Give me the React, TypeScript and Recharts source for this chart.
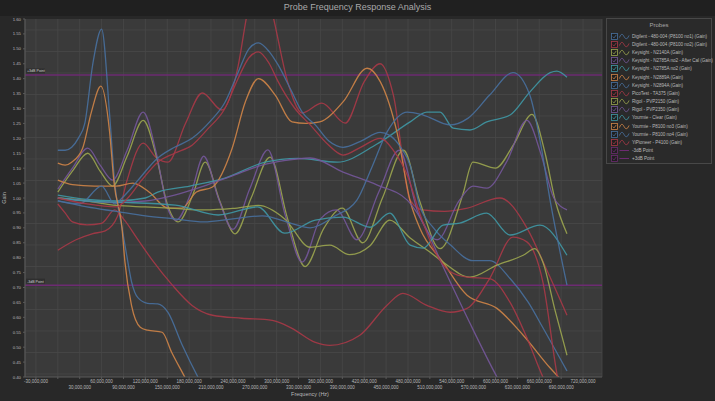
import React from "react";
import { CartesianGrid, Label, Line, LineChart, ReferenceLine, XAxis, YAxis } from "recharts";

type Pt = [number, number]; // [frequency in MHz, gain]

const DIGILENT_NO1: Pt[] = [[0, 1.16], [10, 1.16], [19, 1.17], [28, 1.2], [37, 1.25], [48, 1.45], [60, 1.566], [71, 1.28], [78, 1.05], [88, 0.9], [95, 0.8], [101, 0.72], [110, 0.665], [123, 0.647], [137, 0.645], [151, 0.617], [170, 0.51], [192, 0.4], [215, 0.3]];
const DIGILENT_NO2: Pt[] = [[0, 0.825], [25, 0.86], [47, 0.88], [65, 0.89], [82, 0.94], [95, 1.06], [117, 1.184], [135, 1.135], [151, 1.12], [175, 1.25], [198, 1.352], [225, 1.295], [247, 1.44], [259, 1.61], [277, 1.78], [295, 1.61], [315, 1.39], [335, 1.285], [362, 1.318], [394, 1.251], [420, 1.39], [442, 1.45], [460, 1.345], [483, 0.993], [500, 0.96], [530, 0.955], [560, 0.965], [606, 1.0], [643, 0.9], [670, 0.76], [698, 0.607]];
const KS_N2140A: Pt[] = [[0, 1.02], [20, 1.09], [41, 1.15], [58, 1.09], [75, 1.04], [95, 1.14], [117, 1.26], [135, 1.14], [150, 0.98], [165, 0.92], [185, 1.01], [202, 1.12], [222, 0.99], [243, 0.88], [265, 1.0], [291, 1.137], [315, 0.93], [339, 0.77], [365, 0.9], [390, 0.966], [418, 0.85], [445, 1.0], [474, 1.16], [496, 0.99], [524, 0.83], [555, 1.01], [569, 1.12], [600, 1.1], [625, 1.18], [650, 1.28], [668, 1.15], [682, 0.99], [698, 0.88]];
const KS_N2785A_CAL: Pt[] = [[0, 1.03], [20, 1.1], [41, 1.167], [58, 1.11], [75, 1.06], [95, 1.16], [117, 1.288], [135, 1.15], [150, 0.97], [162, 0.925], [183, 1.02], [200, 1.14], [220, 1.0], [240, 0.895], [263, 1.03], [288, 1.161], [312, 0.94], [335, 0.785], [360, 0.93], [382, 0.96], [410, 0.86], [440, 1.02], [468, 1.16], [494, 0.95], [520, 0.86], [550, 0.99], [569, 1.04], [588, 1.033], [615, 1.12], [643, 1.26], [662, 1.15], [680, 1.0], [698, 0.96]];
const KS_N2785A: Pt[] = [[0, 1.01], [40, 0.995], [80, 0.99], [120, 1.0], [137, 1.02], [181, 1.04], [229, 1.067], [284, 1.12], [329, 1.133], [383, 1.12], [437, 1.18], [483, 1.255], [506, 1.288], [524, 1.288], [542, 1.234], [565, 1.228], [588, 1.255], [620, 1.278], [647, 1.355], [675, 1.42], [684, 1.425], [698, 1.405]];
const KS_N2889A: Pt[] = [[0, 1.06], [20, 1.045], [50, 1.04], [80, 1.04], [103, 1.05], [125, 1.02], [151, 0.966], [170, 0.966], [190, 1.02], [212, 1.037], [239, 1.167], [257, 1.322], [275, 1.4], [298, 1.345], [321, 1.255], [340, 1.25], [359, 1.255], [391, 1.322], [424, 1.435], [442, 1.39], [465, 1.22], [483, 0.99], [496, 0.9], [528, 0.785], [561, 0.674], [602, 0.63], [638, 0.54], [675, 0.43], [698, 0.37]];
const KS_N2894A: Pt[] = [[0, 0.99], [30, 0.98], [60, 1.04], [78, 0.98], [88, 1.0], [110, 1.06], [137, 1.134], [160, 1.17], [184, 1.2], [210, 1.26], [229, 1.32], [247, 1.42], [262, 1.5], [275, 1.52], [290, 1.49], [302, 1.446], [320, 1.36], [335, 1.288], [353, 1.245], [372, 1.19], [391, 1.17], [415, 1.19], [442, 1.22], [455, 1.21], [470, 1.17], [483, 1.11], [496, 0.975], [515, 0.9], [538, 0.843], [569, 0.79], [592, 0.79], [620, 0.73], [645, 0.65], [665, 0.565], [698, 0.42]];
const PICO_TA375: Pt[] = [[0, 0.98], [10, 0.95], [20, 0.92], [40, 0.91], [60, 0.915], [78, 0.96], [90, 0.93], [110, 0.86], [130, 0.79], [157, 0.708], [184, 0.64], [212, 0.607], [252, 0.597], [294, 0.59], [321, 0.563], [353, 0.516], [373, 0.506], [414, 0.54], [451, 0.64], [473, 0.68], [506, 0.64], [538, 0.617], [561, 0.63], [592, 0.73], [624, 0.869], [643, 0.853], [665, 0.718], [685, 0.4], [700, 0.25]];
const RIGOL_2150: Pt[] = [[0, 1.0], [40, 0.99], [80, 0.975], [120, 0.97], [160, 0.965], [200, 0.96], [240, 0.965], [275, 0.975], [311, 0.93], [346, 0.835], [373, 0.842], [400, 0.81], [428, 0.84], [455, 0.926], [483, 0.866], [510, 0.819], [528, 0.785], [565, 0.735], [602, 0.775], [638, 0.808], [654, 0.83], [665, 0.785], [682, 0.62], [698, 0.473]];
const RIGOL_2350: Pt[] = [[0, 1.0], [40, 0.99], [80, 0.985], [120, 0.99], [160, 1.01], [200, 1.04], [240, 1.075], [280, 1.11], [310, 1.125], [346, 1.134], [391, 1.087], [438, 1.043], [479, 0.993], [500, 0.92], [530, 0.76], [565, 0.58], [602, 0.4], [630, 0.28]];
const YOURMIE_CLEAR: Pt[] = [[0, 1.0], [40, 0.99], [82, 0.986], [161, 0.976], [220, 0.943], [274, 0.97], [311, 0.882], [353, 0.926], [391, 0.936], [428, 0.902], [455, 0.949], [483, 0.842], [501, 0.832], [528, 0.909], [551, 0.916], [588, 0.949], [620, 0.876], [661, 0.909], [698, 0.808]];
const YOURMIE_NO3: Pt[] = [[0, 1.117], [10, 1.11], [19, 1.12], [34, 1.167], [46, 1.288], [59, 1.375], [71, 1.221], [77, 1.053], [88, 0.899], [92, 0.785], [101, 0.64], [113, 0.567], [123, 0.557], [143, 0.55], [156, 0.483], [174, 0.4], [195, 0.3]];
const YOURMIE_NO4: Pt[] = [[0, 0.99], [40, 0.97], [80, 0.955], [120, 0.94], [160, 0.93], [200, 0.92], [240, 0.93], [280, 0.94], [320, 0.915], [346, 0.9], [380, 0.94], [410, 0.993], [430, 1.1], [451, 1.22], [479, 1.288], [501, 1.278], [538, 1.245], [562, 1.267], [592, 1.345], [624, 1.42], [647, 1.345], [662, 1.18], [675, 0.99], [698, 0.708]];
const YIPIONEER_P4100: Pt[] = [[0, 1.0], [40, 0.98], [80, 0.97], [96, 1.0], [115, 1.06], [137, 1.12], [160, 1.15], [184, 1.177], [205, 1.23], [229, 1.3], [247, 1.4], [262, 1.47], [275, 1.49], [290, 1.45], [302, 1.39], [325, 1.3], [346, 1.245], [370, 1.18], [391, 1.144], [415, 1.17], [442, 1.2], [460, 1.16], [479, 1.077], [496, 0.95], [515, 0.83], [538, 0.753], [561, 0.735], [592, 0.73], [620, 0.65], [645, 0.52], [665, 0.4], [690, 0.3]];

const SERIES_NAMES = [
  "Digilent - 480-004 (P8100 no1) (Gain)",
  "Digilent - 480-004 (P8100 no2) (Gain)",
  "Keysight - N2140A (Gain)",
  "Keysight - N2785A no2 - After Cal (Gain)",
  "Keysight - N2785A no2 (Gain)",
  "Keysight - N2889A (Gain)",
  "Keysight - N2894A (Gain)",
  "PicoTest - TA375 (Gain)",
  "Rigol - PVP2150 (Gain)",
  "Rigol - PVP2350 (Gain)",
  "Yourmie - Clear (Gain)",
  "Yourmie - P8100 no3 (Gain)",
  "Yourmie - P8100 no4 (Gain)",
  "YiPioneer - P4100 (Gain)",
];
const SERIES_POINTS = [
  DIGILENT_NO1, DIGILENT_NO2, KS_N2140A, KS_N2785A_CAL, KS_N2785A, KS_N2889A, KS_N2894A,
  PICO_TA375, RIGOL_2150, RIGOL_2350, YOURMIE_CLEAR, YOURMIE_NO3, YOURMIE_NO4, YIPIONEER_P4100,
];

// muted palette, cycles every six probes
const BLUE = "#48709f";
const RED = "#a83947";
const GREEN = "#9ba54f";
const PURPLE = "#74579a";
const TEAL = "#3f98a5";
const ORANGE = "#cf8447";
const PALETTE = [BLUE, RED, GREEN, PURPLE, TEAL, ORANGE];
const REF_PURPLE = "#6d2b72";

const REF_LINES = [
  { name: "-3dB Point", label: "-3dB Point", gain: 0.7079 },
  { name: "+3dB Point", label: "+3dB Point", gain: 1.4125 },
];

const X_TICKS_MHZ = [-30, 0, 30, 60, 90, 120, 150, 180, 210, 240, 270, 300, 330, 360, 390, 420, 450, 480, 510, 540, 570, 600, 630, 660, 690, 720];
const Y_TICKS = [0.4, 0.45, 0.5, 0.55, 0.6, 0.65, 0.7, 0.75, 0.8, 0.85, 0.9, 0.95, 1.0, 1.05, 1.1, 1.15, 1.2, 1.25, 1.3, 1.35, 1.4, 1.45, 1.5, 1.55, 1.6];

const FONT = "'Liberation Sans', Arial, sans-serif";
const TEXT = "#b8b8b8";

const seriesData = SERIES_POINTS.map((pts) => pts.map(([f, g]) => ({ freq: f * 1e6, gain: g })));

function FreqTick(props: any) {
  const { x, y, payload, index } = props;
  if (payload.value === 0) return <g />;
  const lower = index !== 0 && index % 2 === 0;
  return (
    <text x={x} y={y + (lower ? 9 : 2.5)} textAnchor="middle" fontSize={4.5} fill={TEXT} fontFamily={FONT}>
      {Number(payload.value).toLocaleString("en-US")}
    </text>
  );
}

function RefLabel({ viewBox, text }: any) {
  const y = viewBox.y;
  return (
    <g>
      <rect x={26} y={y - 6.5} width={19} height={5} fill="#2d2d2d" fillOpacity={0.85} />
      <text x={27} y={y - 2.6} fontSize={3.6} fill="#d0d0d0" fontFamily={FONT}>
        {text}
      </text>
    </g>
  );
}

function LegendIcon({ color, line }: { color: string; line?: boolean }) {
  return (
    <svg width={19} height={7} style={{ display: "block", flex: "none" }}>
      <rect x={0.5} y={0.5} width={6} height={6} fill="#1f1f1f" stroke={color} strokeWidth={0.8} />
      <polyline points="1.8,3.6 3,4.9 5.3,1.9" fill="none" stroke={color} strokeWidth={0.8} />
      {line ? (
        <line x1={8.5} y1={3.5} x2={18} y2={3.5} stroke={color} strokeWidth={1} />
      ) : (
        <path d="M8.5,4.5 C10,0.5 11.5,0.5 13,3.5 S16.5,6.5 18,2.5" fill="none" stroke={color} strokeWidth={0.9} />
      )}
    </svg>
  );
}

function ProbeLegend() {
  const items = [
    ...SERIES_NAMES.map((name, i) => ({ name, color: PALETTE[i % PALETTE.length], line: false })),
    ...REF_LINES.map((r) => ({ name: r.name, color: REF_PURPLE, line: true })),
  ];
  return (
    <div
      style={{
        position: "absolute",
        left: 606,
        top: 18,
        width: 106,
        height: 146,
        boxSizing: "border-box",
        border: "1px solid #484848",
        background: "#2a2a2a",
        fontFamily: FONT,
      }}
    >
      <div style={{ textAlign: "center", fontSize: 6, color: "#a8a8a8", marginTop: 3, height: 10 }}>Probes</div>
      {items.map((it) => (
        <div key={it.name} style={{ display: "flex", alignItems: "center", height: 8.2, marginLeft: 4 }}>
          <LegendIcon color={it.color} line={it.line} />
          <span style={{ fontSize: 4.6, letterSpacing: -0.05, color: TEXT, marginLeft: 2, whiteSpace: "nowrap" }}>{it.name}</span>
        </div>
      ))}
    </div>
  );
}

export default function App() {
  return (
    <div style={{ position: "fixed", left: 0, top: 0, width: 715, height: 401, background: "#282828", overflow: "hidden" }}>
      <div style={{ position: "absolute", left: 0, top: 0, width: 715, height: 16, background: "#202020" }} />
      <div
        style={{
          position: "absolute",
          left: 0,
          top: 2,
          width: 715,
          textAlign: "center",
          fontSize: 9,
          color: "#a9a9a9",
          fontFamily: FONT,
        }}
      >
        Probe Frequency Response Analysis
      </div>
      <div style={{ position: "absolute", left: 0, top: 0 }}>
        <LineChart width={715} height={401} margin={{ top: 19, right: 113, bottom: 0, left: 0 }}>
          <CartesianGrid
            fill="#3a3a3a"
            fillOpacity={1}
            stroke="#484848"
            strokeWidth={0.8}
            horizontalCoordinatesGenerator={({ offset }: any) => {
              const ys: number[] = [];
              for (let y = offset.top + 11; y <= offset.top + offset.height; y += 21.5) ys.push(y);
              return ys;
            }}
          />
          <XAxis
            type="number"
            dataKey="freq"
            domain={[-45e6, 746e6]}
            ticks={X_TICKS_MHZ.map((v) => v * 1e6)}
            interval={0}
            allowDataOverflow
            height={24}
            tick={<FreqTick />}
            tickSize={2}
            tickMargin={1}
            stroke="#5a5a5a"
          >
            <Label
              content={() => (
                <text x={310} y={396} textAnchor="middle" fontSize={5.5} fill={TEXT} fontFamily={FONT}>
                  Frequency (Hz)
                </text>
              )}
            />
          </XAxis>
          <YAxis
            type="number"
            domain={[0.4, 1.6]}
            ticks={Y_TICKS}
            interval={0}
            allowDataOverflow
            width={25}
            tickSize={2}
            tickMargin={2}
            stroke="#5a5a5a"
            tick={{ fontSize: 4.3, fill: TEXT, fontFamily: FONT }}
            tickFormatter={(v: number) => v.toFixed(2)}
          >
            <Label
              content={({ viewBox }: any) => {
                const cy = viewBox.y + viewBox.height / 2;
                return (
                  <text x={6} y={cy} transform={`rotate(-90, 6, ${cy})`} textAnchor="middle" fontSize={5.5} fill={TEXT} fontFamily={FONT}>
                    Gain
                  </text>
                );
              }}
            />
          </YAxis>
          {REF_LINES.map((r) => (
            <ReferenceLine
              key={r.name}
              y={r.gain}
              stroke={REF_PURPLE}
              strokeWidth={1.5}
              label={<RefLabel text={r.label} />}
            />
          ))}
          {seriesData.map((data, i) => (
            <Line
              key={SERIES_NAMES[i]}
              data={data}
              dataKey="gain"
              name={SERIES_NAMES[i]}
              type="monotone"
              stroke={PALETTE[i % PALETTE.length]}
              strokeWidth={1.3}
              strokeOpacity={0.9}
              dot={false}
              activeDot={false}
              isAnimationActive={false}
            />
          ))}
        </LineChart>
      </div>
      <ProbeLegend />
    </div>
  );
}
